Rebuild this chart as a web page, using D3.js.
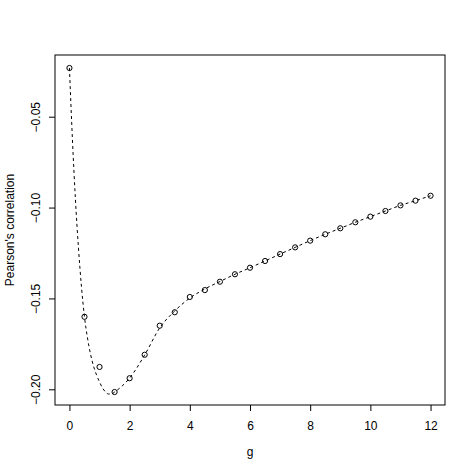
<!DOCTYPE html>
<html>
<head>
<meta charset="utf-8">
<script src="https://cdn.jsdelivr.net/npm/d3@7"></script>
<style>
  body { margin: 0; background: #fff; }
  text { font-family: "Liberation Sans", Arial, sans-serif; font-size: 12px; fill: #000; }
</style>
</head>
<body>
<script>
// observed points
const gValues = [0, 0.5, 1, 1.5, 2, 2.5, 3, 3.5, 4, 4.5, 5, 5.5, 6, 6.5, 7, 7.5, 8, 8.5, 9, 9.5, 10, 10.5, 11, 11.5, 12]
const corValues = [-0.0232, -0.1601, -0.1877, -0.2015, -0.1939, -0.1810, -0.1650, -0.1576, -0.1492, -0.1454,
  -0.1408, -0.1367, -0.1331, -0.1294, -0.1256, -0.1219, -0.1182, -0.1147, -0.1114, -0.1081,
  -0.1050, -0.1019, -0.0988, -0.0962, -0.0935]

// dashed fitted curve
const curveG = [0, 0.1, 0.2, 0.3, 0.4, 0.5, 0.6, 0.7, 0.8, 0.9, 1, 1.1, 1.2, 1.3, 1.4, 1.5, 1.75, 2, 2.5, 3, 3.5, 4, 4.5, 5,
  5.5, 6, 6.5, 7, 7.5, 8, 8.5, 9, 9.5, 10, 10.5, 11, 11.5, 12]
const curveCor = [-0.0232, -0.0628, -0.0958, -0.1223, -0.1437, -0.1602, -0.1718, -0.1806, -0.1872, -0.1921,
  -0.1960, -0.1993, -0.2015, -0.2026, -0.2026, -0.2015, -0.1982, -0.1938, -0.1811, -0.1662, -0.1569,
  -0.1498, -0.1448, -0.1407, -0.1367, -0.1331, -0.1294, -0.1256, -0.1219, -0.1182, -0.1147, -0.1114,
  -0.1081, -0.1050, -0.1019, -0.0988, -0.0962, -0.0935]

const xTicks = [0, 2, 4, 6, 8, 10, 12]
const yTicks = [-0.20, -0.15, -0.10, -0.05]

const width = 474, height = 474
const plot = {left: 55, right: 445, top: 55, bottom: 405}

const svg = d3.select('body').append('svg').attr('width', width).attr('height', height)

const x = d3.scaleLinear()
  .domain([-0.48, 12.48])
  .range([plot.left, plot.right])

const y = d3.scaleLinear()
  .domain([-0.20864, -0.01605])
  .range([plot.bottom, plot.top])

// x axis
const xAxis = svg.append('g')
  .attr('transform', `translate(0,${plot.bottom})`)
  .call(d3.axisBottom(x).tickValues(xTicks).tickSize(6).tickSizeOuter(0).tickFormat(d3.format('d')))
xAxis.select('.domain').remove()
xAxis.selectAll('text').attr('y', 25).attr('dy', 0).style('font-family', null).style('font-size', null)
  .attr('font-family', null).attr('font-size', null)

// y axis, labels rotated like base R
const yAxis = svg.append('g')
  .attr('transform', `translate(${plot.left},0)`)
  .call(d3.axisLeft(y).tickValues(yTicks).tickSize(6).tickSizeOuter(0).tickFormat(d3.format('.2f')))
yAxis.select('.domain').remove()
yAxis.selectAll('text')
  .attr('x', 0).attr('dy', 0)
  .attr('text-anchor', 'middle')
  .attr('transform', 'translate(-15,0) rotate(-90)')
svg.selectAll('.tick line').attr('stroke', '#000')
svg.selectAll('g').attr('font-family', null).attr('font-size', null)

// box
svg.append('rect')
  .attr('x', plot.left).attr('y', plot.top)
  .attr('width', plot.right - plot.left).attr('height', plot.bottom - plot.top)
  .attr('fill', 'none').attr('stroke', '#000').attr('stroke-width', 1)

// dashed curve
const line = d3.line()
  .x((d, i) => x(curveG[i]))
  .y(d => y(d))
  .curve(d3.curveMonotoneX)

svg.append('path')
  .datum(curveCor)
  .attr('d', line)
  .attr('fill', 'none')
  .attr('stroke', '#000')
  .attr('stroke-width', 1)
  .attr('stroke-dasharray', '3,3')

// open circles
svg.selectAll('.pt')
  .data(corValues)
  .enter().append('circle')
  .attr('class', 'pt')
  .attr('cx', (d, i) => x(gValues[i]))
  .attr('cy', d => y(d))
  .attr('r', 2.6)
  .attr('fill', 'none')
  .attr('stroke', '#000')
  .attr('stroke-width', 1)

// axis titles
svg.append('text')
  .attr('x', (plot.left + plot.right) / 2)
  .attr('y', 456)
  .attr('text-anchor', 'middle')
  .text('g')

svg.append('text')
  .attr('transform', `translate(14,${(plot.top + plot.bottom) / 2}) rotate(-90)`)
  .attr('text-anchor', 'middle')
  .text("Pearson's correlation")
</script>
</body>
</html>
